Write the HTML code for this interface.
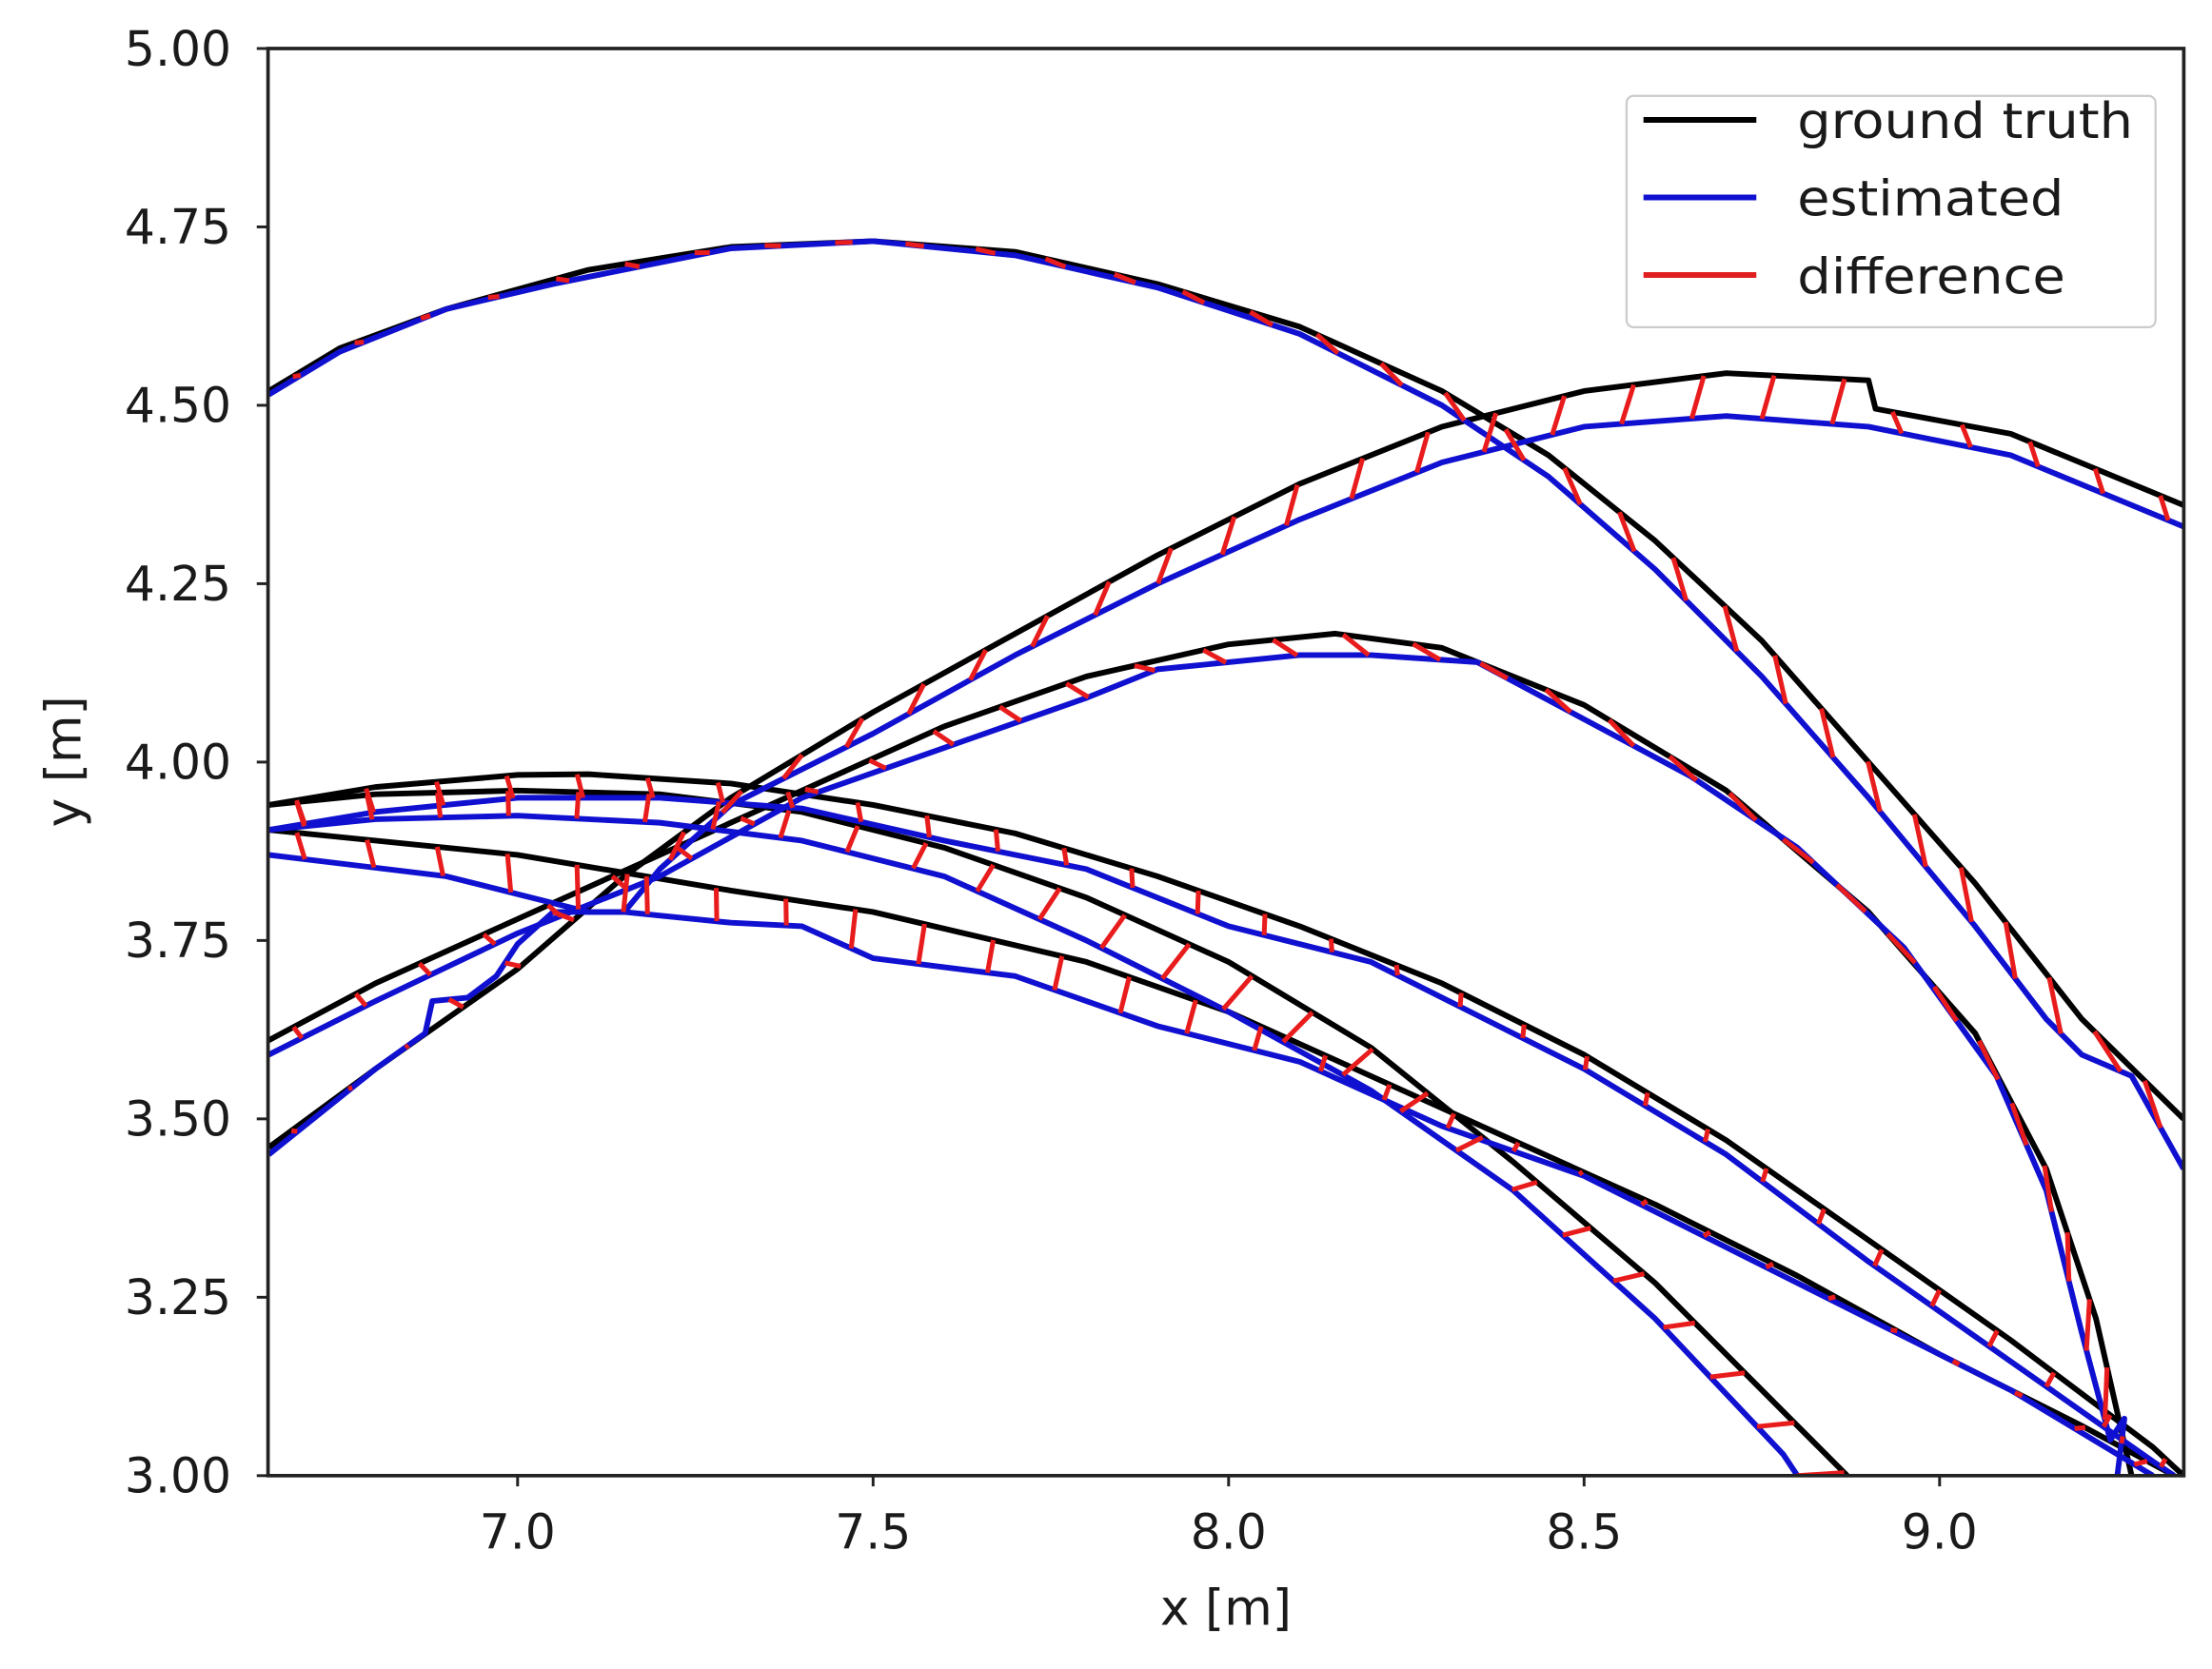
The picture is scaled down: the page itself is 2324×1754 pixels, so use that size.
<!DOCTYPE html>
<html><head><meta charset="utf-8"><style>
html,body{margin:0;padding:0;background:#fff;}
svg{display:block;}
text{font-family:"DejaVu Sans","Liberation Sans",sans-serif;fill:#1a1a1a;}
</style></head><body>
<svg id="s" width="2324" height="1754" viewBox="0 0 1568 1183.5" preserveAspectRatio="none" xmlns="http://www.w3.org/2000/svg">
<rect width="1568" height="1183.5" fill="#fff"/>
<defs><clipPath id="c"><rect x="190" y="34.4" width="1358" height="1012"/></clipPath></defs>
<g id="plot" clip-path="url(#c)"></g>
<rect x="190" y="34.4" width="1358" height="1012" fill="none" stroke="#222" stroke-width="2.5"/>
<g id="ticks" stroke="#222" stroke-width="2"></g>
<g id="labels" font-size="34"></g>
<text x="869" y="1152" font-size="35" text-anchor="middle">x [m]</text>
<text transform="translate(57,540) rotate(-90)" font-size="35" text-anchor="middle">y [m]</text>
<rect x="1153" y="68" width="375" height="164" rx="5" fill="#fff" fill-opacity="0.85" stroke="#ccc" stroke-width="1.5"/>
<line x1="1165" y1="85" x2="1245" y2="85" stroke="#000" stroke-width="4"/>
<line x1="1165" y1="140" x2="1245" y2="140" stroke="#1010d0" stroke-width="4"/>
<line x1="1165" y1="195" x2="1245" y2="195" stroke="#e02020" stroke-width="4"/>
<text x="1274" y="98" font-size="35" textLength="238" lengthAdjust="spacingAndGlyphs">ground truth</text>
<text x="1274" y="153" font-size="35" textLength="189" lengthAdjust="spacingAndGlyphs">estimated</text>
<text x="1274" y="208" font-size="35" textLength="190" lengthAdjust="spacingAndGlyphs">difference</text>
</svg>
<script>
var NS="http://www.w3.org/2000/svg";
function X(x){return 190+(x-6.649)*504;}
function Y(y){return 34.4+(5-y)*506;}
var curves=[
[[[6.65,4.52],[6.75,4.58],[6.9,4.635],[7.1,4.69],[7.3,4.722],[7.5,4.73],[7.7,4.715],[7.9,4.67],[8.1,4.61],[8.3,4.52],[8.45,4.43],[8.6,4.31],[8.75,4.17],[8.9,4.0],[9.05,3.83],[9.2,3.64],[9.343,3.5]],
 [[6.65,4.515],[6.75,4.575],[6.9,4.635],[7.05,4.67],[7.1,4.68],[7.3,4.72],[7.5,4.73],[7.7,4.71],[7.9,4.665],[8.1,4.6],[8.3,4.5],[8.45,4.4],[8.6,4.27],[8.75,4.12],[8.9,3.95],[9.05,3.77],[9.15,3.64],[9.2,3.59],[9.27,3.56],[9.343,3.43]]],
[[[6.65,3.46],[6.8,3.57],[7.0,3.71],[7.15,3.84],[7.3,3.95],[7.5,4.07],[7.7,4.18],[7.9,4.29],[8.1,4.39],[8.3,4.47],[8.5,4.52],[8.7,4.545],[8.9,4.535],[8.91,4.495],[9.1,4.46],[9.343,4.36]],
 [[6.65,3.45],[6.8,3.57],[6.87,3.62],[6.88,3.665],[6.93,3.67],[6.97,3.7],[7.0,3.745],[7.05,3.79],[7.15,3.79],[7.2,3.85],[7.3,3.94],[7.5,4.04],[7.7,4.15],[7.9,4.25],[8.1,4.34],[8.3,4.42],[8.5,4.47],[8.7,4.485],[8.9,4.47],[9.1,4.43],[9.343,4.33]]],
[[[6.65,3.61],[6.8,3.69],[7.0,3.78],[7.2,3.87],[7.4,3.96],[7.6,4.05],[7.8,4.12],[8.0,4.165],[8.15,4.18],[8.3,4.16],[8.5,4.08],[8.7,3.96],[8.9,3.79],[9.05,3.62],[9.15,3.43],[9.22,3.22],[9.27,3.0]],
 [[6.65,3.59],[6.8,3.665],[7.0,3.76],[7.2,3.84],[7.4,3.95],[7.6,4.02],[7.8,4.09],[7.9,4.13],[8.0,4.14],[8.1,4.15],[8.2,4.15],[8.35,4.14],[8.5,4.06],[8.65,3.98],[8.8,3.88],[8.95,3.74],[9.08,3.56],[9.15,3.4],[9.2,3.2],[9.24,3.05],[9.26,3.08],[9.25,3.0]]],
[[[6.65,3.94],[6.8,3.965],[7.0,3.982],[7.1,3.983],[7.3,3.97],[7.5,3.94],[7.7,3.9],[7.9,3.84],[8.1,3.77],[8.3,3.69],[8.5,3.59],[8.7,3.47],[8.9,3.33],[9.1,3.19],[9.3,3.04],[9.343,3.0]],
 [[6.65,3.905],[6.8,3.93],[7.0,3.95],[7.2,3.95],[7.4,3.935],[7.6,3.89],[7.8,3.85],[8.0,3.77],[8.2,3.72],[8.4,3.62],[8.5,3.57],[8.7,3.45],[8.9,3.3],[9.1,3.16],[9.3,3.02],[9.33,3.0]]],
[[[6.65,3.94],[6.8,3.955],[7.0,3.96],[7.2,3.955],[7.4,3.93],[7.6,3.88],[7.8,3.81],[8.0,3.72],[8.2,3.6],[8.4,3.44],[8.6,3.27],[8.8,3.07],[8.87,3.0]],
 [[6.65,3.905],[6.8,3.92],[7.0,3.925],[7.2,3.915],[7.4,3.89],[7.6,3.84],[7.8,3.75],[8.0,3.65],[8.2,3.54],[8.4,3.4],[8.6,3.22],[8.78,3.03],[8.8,3.0]]],
[[[6.65,3.905],[7.0,3.87],[7.3,3.82],[7.5,3.79],[7.8,3.72],[8.0,3.65],[8.2,3.56],[8.4,3.47],[8.6,3.38],[8.8,3.28],[9.0,3.17],[9.2,3.07],[9.33,3.0]],
 [[6.65,3.87],[6.9,3.84],[7.1,3.79],[7.15,3.79],[7.3,3.775],[7.4,3.77],[7.5,3.725],[7.7,3.7],[7.9,3.63],[8.1,3.58],[8.3,3.49],[8.5,3.42],[8.7,3.32],[8.9,3.22],[9.1,3.12],[9.3,3.0]]]
];
var plot=document.getElementById('plot');
function el(n,a){var e=document.createElementNS(NS,n);for(var k in a)e.setAttribute(k,a[k]);return e;}
function pts(c){return c.map(function(p){return [X(p[0]),Y(p[1])];});}
function lens(p){var L=[0];for(var i=1;i<p.length;i++)L.push(L[i-1]+Math.hypot(p[i][0]-p[i-1][0],p[i][1]-p[i-1][1]));return L;}
function at(p,L,s){for(var i=1;i<p.length;i++){if(L[i]>=s){var f=(s-L[i-1])/((L[i]-L[i-1])||1);return [p[i-1][0]+f*(p[i][0]-p[i-1][0]),p[i-1][1]+f*(p[i][1]-p[i-1][1])];}}return p[p.length-1];}
var blacks=[],blues=[],reds=[];
curves.forEach(function(c){
  var g=pts(c[0]),e=pts(c[1]);
  blacks.push(g);blues.push(e);
  var Lg=lens(g),Le=lens(e),Tg=Lg[Lg.length-1],Te=Le[Le.length-1];
  for(var s=20;s<Tg;s+=50){var a=at(g,Lg,s),b=at(e,Le,s/Tg*Te+6);reds.push([a,b]);}
});
function poly(p,col,w){plot.appendChild(el('polyline',{points:p.map(function(q){return q[0].toFixed(1)+','+q[1].toFixed(1);}).join(' '),fill:'none',stroke:col,'stroke-width':w,'stroke-linejoin':'round'}));}
blacks.forEach(function(p){poly(p,'#000',4);});
blues.forEach(function(p){poly(p,'#1010d0',4);});
reds.forEach(function(r){poly(r,'#e81c1c',3.4);});
var tk=document.getElementById('ticks'),lb=document.getElementById('labels');
[7.0,7.5,8.0,8.5,9.0].forEach(function(v){var x=X(v);tk.appendChild(el('line',{x1:x,y1:1046.4,x2:x,y2:1054}));var t=el('text',{x:x,y:1098,'text-anchor':'middle'});t.textContent=v.toFixed(1);lb.appendChild(t);});
for(var i=0;i<=8;i++){var v=3+i*0.25,y=Y(v);tk.appendChild(el('line',{x1:182,y1:y,x2:190,y2:y}));var t=el('text',{x:164,y:y+12,'text-anchor':'end'});t.textContent=v.toFixed(2);lb.appendChild(t);}
</script>
</body></html>
